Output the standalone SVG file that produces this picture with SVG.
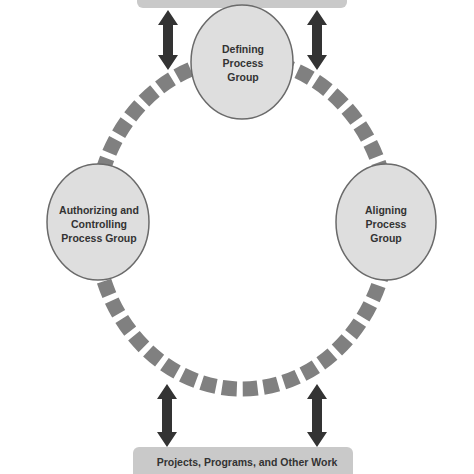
<svg xmlns="http://www.w3.org/2000/svg" width="474" height="474" viewBox="0 0 474 474">
<style>
.bar{fill:#c9c9c9;}
.node{fill:#dedede;stroke:#6a6a6a;stroke-width:1.5;}
.lbl{font-family:"Liberation Sans Narrow","Liberation Sans",Arial,sans-serif;font-weight:bold;font-size:10.5px;fill:#333333;text-anchor:middle;}
.ring{fill:none;stroke:#808080;stroke-width:15;stroke-dasharray:15 6;}
.arr{fill:#333333;}
</style>
<rect x="0" y="0" width="474" height="474" fill="#ffffff"/>
<g id="ring">
<ellipse class="ring" cx="242" cy="224" rx="147" ry="165" pathLength="987"/>
</g>
<g id="top-bar">
<rect class="bar" x="137" y="-12" width="210" height="20" rx="6"/>
</g>
<g id="bottom-bar">
<rect class="bar" x="133" y="447" width="220" height="40" rx="6"/>
<text class="lbl" x="247" y="466">Projects, Programs, and Other Work</text>
</g>
<g id="connectors">
<path class="arr" d="M168,10 L178,25 L173,25 L173,55 L178,55 L168,70 L158,55 L163,55 L163,25 L158,25 Z"/>
<path class="arr" d="M317,10 L327,25 L322,25 L322,55 L327,55 L317,70 L307,55 L312,55 L312,25 L307,25 Z"/>
<path class="arr" d="M167,384 L177,399 L172,399 L172,432 L177,432 L167,447 L157,432 L162,432 L162,399 L157,399 Z"/>
<path class="arr" d="M317,384 L327,399 L322,399 L322,432 L327,432 L317,447 L307,432 L312,432 L312,399 L307,399 Z"/>
</g>
<g id="defining">
<ellipse class="node" cx="242" cy="62" rx="51" ry="57"/>
<text class="lbl" x="243" y="53">Defining</text>
<text class="lbl" x="243" y="67">Process</text>
<text class="lbl" x="243" y="81">Group</text>
</g>
<g id="authorizing">
<ellipse class="node" cx="98" cy="222" rx="51" ry="58"/>
<text class="lbl" x="99" y="214">Authorizing and</text>
<text class="lbl" x="99" y="228">Controlling</text>
<text class="lbl" x="99" y="242">Process Group</text>
</g>
<g id="aligning">
<ellipse class="node" cx="386" cy="222" rx="50" ry="58"/>
<text class="lbl" x="386" y="214">Aligning</text>
<text class="lbl" x="386" y="228">Process</text>
<text class="lbl" x="386" y="242">Group</text>
</g>
</svg>
